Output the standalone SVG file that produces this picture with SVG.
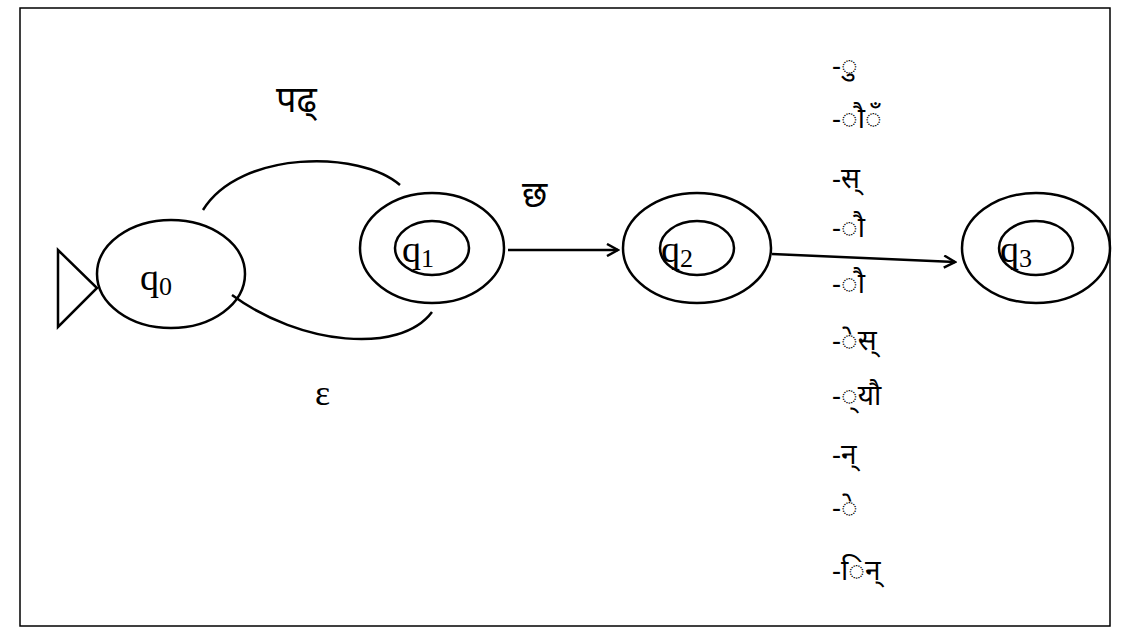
<svg xmlns="http://www.w3.org/2000/svg" width="1136" height="634" viewBox="0 0 1136 634">
<style>
.s{fill:none;stroke:#000;stroke-width:2.5}
.q{font-family:"Liberation Serif",serif;font-size:38px}
.sub{font-size:26px}
.d{font-family:"Noto Sans","Noto Sans Devanagari","Lohit Devanagari",sans-serif;font-size:28px}
</style>
<defs><marker id="a" markerWidth="14" markerHeight="14" refX="12" refY="7" orient="auto" markerUnits="userSpaceOnUse"><path d="M1,1 L12,7 L1,13" fill="none" stroke="#000" stroke-width="2.5"/></marker></defs>
<rect x="20" y="8" width="1090" height="618" fill="#fff" stroke="#000" stroke-width="1.5"/>
<g id="start"><polygon class="s" points="58,250 58,327 97,288"/></g>
<g id="q0"><ellipse class="s" cx="171" cy="274" rx="74" ry="54"/><text class="q" x="140" y="290">q<tspan class="sub" dy="5">0</tspan></text></g>
<g id="q1"><ellipse class="s" cx="432" cy="248" rx="72" ry="55"/><ellipse class="s" cx="432" cy="248" rx="37" ry="27"/><text class="q" x="402" y="262">q<tspan class="sub" dy="5">1</tspan></text></g>
<g id="q2"><ellipse class="s" cx="697" cy="248" rx="74" ry="55"/><ellipse class="s" cx="697" cy="248" rx="37" ry="27"/><text class="q" x="661" y="262">q<tspan class="sub" dy="5">2</tspan></text></g>
<g id="q3"><ellipse class="s" cx="1036" cy="248" rx="74" ry="55"/><ellipse class="s" cx="1036" cy="248" rx="37" ry="27"/><text class="q" x="1000" y="262">q<tspan class="sub" dy="5">3</tspan></text></g>
<g id="edges">
<path class="s" d="M203,210 C240,150 360,150 400,185"/>
<path class="s" d="M232,295 C300,345 400,355 432,312"/>
<line class="s" x1="508" y1="250" x2="618" y2="250" marker-end="url(#a)"/>
<line class="s" x1="772" y1="254" x2="955" y2="262" marker-end="url(#a)"/>
</g>
<g id="labels">
<text class="d" x="276" y="112" style="font-size:36px">पढ्</text>
<text class="d" x="522" y="207" style="font-size:36px">छ</text>
<text x="315" y="405" font-family="Liberation Serif,serif" font-size="36">ε</text>
<g class="d">
<text x="832" y="75">-◌ु</text>
<text x="832" y="128">-◌ौ◌ँ</text>
<text x="832" y="188">-स्</text>
<text x="832" y="237">-◌ौ</text>
<text x="832" y="293">-◌ौ</text>
<text x="832" y="350">-◌ेस्</text>
<text x="832" y="405">-◌्यौ</text>
<text x="832" y="464">-न्</text>
<text x="832" y="517">-◌े</text>
<text x="832" y="580">-◌िन्</text>
</g>
</g>
</svg>
